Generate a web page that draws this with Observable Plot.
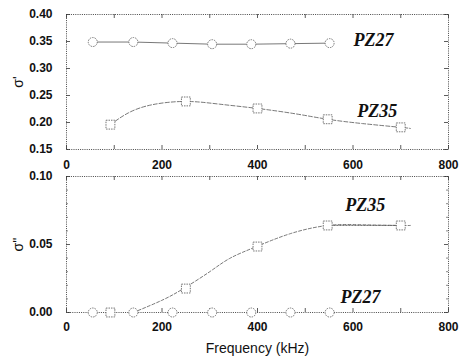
<!DOCTYPE html>
<html>
<head>
<meta charset="utf-8">
<script src="https://cdn.jsdelivr.net/npm/d3@7"></script>
<script src="https://cdn.jsdelivr.net/npm/@observablehq/plot@0.6"></script>
<style>
  html, body { margin: 0; padding: 0; background: white; }
  #chart svg { display: block; }
</style>
</head>
<body>
<div id="chart"></div>
<script>
// ---- data ----
const freqPZ27 = [55, 140, 222, 305, 387, 469, 551];          // kHz
const sigma1PZ27 = [0.349, 0.349, 0.347, 0.345, 0.345, 0.346, 0.347];
const sigma2PZ27 = [0, 0, 0, 0, 0, 0, 0];

const freqPZ35 = [92, 250, 400, 547, 700];                      // kHz
const sigma1PZ35 = [0.196, 0.239, 0.226, 0.206, 0.191];
const sigma2PZ35 = [0, 0.0176, 0.0485, 0.064, 0.064];

// fitted curves as drawn in the reference
const fit1X = [92, 130, 180, 250, 320, 400, 480, 547, 620, 700, 720];
const fit1Y = [0.196, 0.218, 0.233, 0.239, 0.234, 0.226, 0.216, 0.206, 0.198, 0.191, 0.189];
const fit2X = [140, 200, 245, 300, 343, 398, 469, 547, 620, 700, 720];
const fit2Y = [0, 0.009, 0.0176, 0.030, 0.040, 0.0485, 0.058, 0.064, 0.0645, 0.064, 0.064];

const xTickLabels = [0, 200, 400, 600, 800];
const xTickMarks = [0, 100, 200, 300, 400, 500, 600, 700, 800];
const y1Ticks = [0.15, 0.20, 0.25, 0.30, 0.35, 0.40];
const y2Ticks = [0.00, 0.05, 0.10];
const y2Minor = [0.01, 0.02, 0.03, 0.04, 0.06, 0.07, 0.08, 0.09];

const labelsTop = [{text: "PZ27", x: 601, y: 0.352}, {text: "PZ35", x: 609, y: 0.220}];
const labelsBottom = [{text: "PZ35", x: 584, y: 0.0787}, {text: "PZ27", x: 574, y: 0.011}];

// ---- build tables ----
const pz27top = freqPZ27.map((f, i) => ({f, s: sigma1PZ27[i]}));
const pz35top = freqPZ35.map((f, i) => ({f, s: sigma1PZ35[i]}));
const pz27bot = freqPZ27.map((f, i) => ({f, s: sigma2PZ27[i]}));
const pz35bot = freqPZ35.map((f, i) => ({f, s: sigma2PZ35[i]}));
const fit1 = fit1X.map((f, i) => ({f, s: fit1Y[i]}));
const fit2 = fit2X.map((f, i) => ({f, s: fit2Y[i]}));

const W = 474, ML = 66, MR = 26;
const FW = W - ML - MR;
const ink = "#111";
const mark = "#666";
const labelFont = "'Liberation Serif', 'Times New Roman', serif";
const sansFont = "'Liberation Sans', Arial, sans-serif";

function ticksMarks(yTicks, FH, minorY) {
  const m = [
    Plot.tickX(xTickMarks, {x: d => d, insetTop: FH - 4, stroke: "#333", strokeWidth: 0.8}),
    Plot.tickX(xTickMarks, {x: d => d, insetBottom: FH - 4, stroke: "#333", strokeWidth: 0.8}),
    Plot.tickY(yTicks, {y: d => d, insetRight: FW - 4, stroke: "#333", strokeWidth: 0.8}),
    Plot.tickY(yTicks, {y: d => d, insetLeft: FW - 4, stroke: "#333", strokeWidth: 0.8})
  ];
  if (minorY) {
    m.push(Plot.tickY(minorY, {y: d => d, insetRight: FW - 2, stroke: "#555", strokeWidth: 0.7}));
    m.push(Plot.tickY(minorY, {y: d => d, insetLeft: FW - 2, stroke: "#555", strokeWidth: 0.7}));
  }
  return m;
}

const topH = 170, topMT = 14, topMB = 21;
const topPlot = Plot.plot({
  width: W, height: topH,
  marginLeft: ML, marginRight: MR, marginTop: topMT, marginBottom: topMB,
  style: {fontFamily: sansFont, color: ink, background: "white", overflow: "visible"},
  x: {domain: [0, 800]},
  y: {domain: [0.15, 0.40]},
  marks: [
    Plot.frame({stroke: "#333", strokeWidth: 0.9, strokeDasharray: "1,1.2"}),
    ...ticksMarks(y1Ticks, topH - topMT - topMB),
    Plot.axisX({ticks: xTickLabels, tickSize: 0, tickPadding: 11, fontSize: 12, fontWeight: "bold", label: null, tickFormat: d => d}),
    Plot.axisY({ticks: y1Ticks, tickSize: 0, tickPadding: 14, fontSize: 12, fontWeight: "bold", tickFormat: d3.format(".2f"),
      label: "σ'", labelAnchor: "center", labelArrow: "none", labelOffset: 53}),
    Plot.line(pz27top, {x: "f", y: "s", stroke: "#555", strokeWidth: 0.8}),
    Plot.line(fit1, {x: "f", y: "s", curve: "natural", stroke: "#555", strokeWidth: 0.8, strokeDasharray: "4,2"}),
    Plot.dot(pz27top, {x: "f", y: "s", r: 4.5, stroke: mark, strokeWidth: 0.9, fill: "white", strokeDasharray: "1.5,1"}),
    Plot.dot(pz35top, {x: "f", y: "s", r: 5, symbol: "square", stroke: mark, strokeWidth: 0.9, fill: "white", strokeDasharray: "1.5,1"}),
    Plot.text(labelsTop, {x: "x", y: "y", text: "text", textAnchor: "start", fontFamily: labelFont, fontWeight: "bold", fontStyle: "italic", fontSize: 18, fill: ink})
  ]
});

const botH = 192, botMT = 6, botMB = 50;
const bottomPlot = Plot.plot({
  width: W, height: botH,
  marginLeft: ML, marginRight: MR, marginTop: botMT, marginBottom: botMB,
  style: {fontFamily: sansFont, color: ink, background: "white", overflow: "visible"},
  x: {domain: [0, 800]},
  y: {domain: [0, 0.10]},
  marks: [
    Plot.frame({stroke: "#333", strokeWidth: 0.9, strokeDasharray: "1,1.2"}),
    ...ticksMarks(y2Ticks, botH - botMT - botMB, y2Minor),
    Plot.axisX({ticks: xTickLabels, tickSize: 0, tickPadding: 10, fontSize: 12, fontWeight: "bold", tickFormat: d => d,
      label: "Frequency (kHz)", labelAnchor: "center", labelArrow: "none", labelOffset: 40}),
    Plot.axisY({ticks: y2Ticks, tickSize: 0, tickPadding: 14, fontSize: 12, fontWeight: "bold", tickFormat: d3.format(".2f"),
      label: "σ''", labelAnchor: "center", labelArrow: "none", labelOffset: 53}),
    Plot.line(fit2, {x: "f", y: "s", curve: "natural", stroke: "#555", strokeWidth: 0.8, strokeDasharray: "3,2"}),
    Plot.line(pz35bot.slice(3), {x: "f", y: "s", stroke: "#555", strokeWidth: 0.8, strokeDasharray: "1.5,1.5"}),
    Plot.dot(pz27bot, {x: "f", y: "s", r: 4.5, stroke: mark, strokeWidth: 0.9, fill: "white", strokeDasharray: "1.5,1"}),
    Plot.dot(pz35bot, {x: "f", y: "s", r: 5, symbol: "square", stroke: mark, strokeWidth: 0.9, fill: "white", strokeDasharray: "1.5,1"}),
    Plot.text(labelsBottom, {x: "x", y: "y", text: "text", textAnchor: "start", fontFamily: labelFont, fontWeight: "bold", fontStyle: "italic", fontSize: 18, fill: ink})
  ]
});

const chart = document.getElementById("chart");
chart.appendChild(topPlot);
chart.appendChild(bottomPlot);
// axis title styling
for (const svg of chart.querySelectorAll("svg")) {
  svg.querySelectorAll("[aria-label$='axis label']").forEach(n => {
    n.setAttribute("font-size", 14);
    n.setAttribute("font-weight", "normal");
    n.querySelectorAll("text").forEach(t => { t.setAttribute("font-size", 14); t.setAttribute("font-weight", "normal"); });
  });
}
</script>
</body>
</html>
